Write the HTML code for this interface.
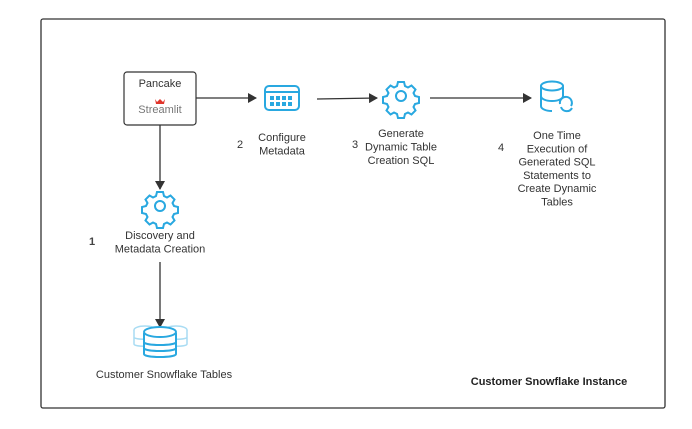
<!DOCTYPE html>
<html><head><meta charset="utf-8"><style>
html,body{margin:0;padding:0;background:#fff}
svg{display:block}
text{font-family:"Liberation Sans",sans-serif;fill:#333;font-size:11px}
</style></head><body>
<svg width="692" height="429" viewBox="0 0 692 429">
<defs><marker id="a" markerWidth="10" markerHeight="10" refX="8" refY="5" orient="auto" markerUnits="userSpaceOnUse"><path d="M0,0 L9,5 L0,10 Z" fill="#333"/></marker>
<g id="g" fill="none" stroke="#29a8e0" stroke-width="2">
<path d="M-3,-14 h6 l1,4 l3,1.5 l3.5,-2 l4,4 l-2,3.5 l1.5,3 l4,1 v6 l-4,1 l-1.5,3 l2,3.5 l-4,4 l-3.5,-2 l-3,1.5 l-1,4 h-6 l-1,-4 l-3,-1.5 l-3.5,2 l-4,-4 l2,-3.5 l-1.5,-3 l-4,-1 v-6 l4,-1 l1.5,-3 l-2,-3.5 l4,-4 l3.5,2 l3,-1.5 z"/>
<circle r="5"/>
</g></defs>
<rect x="41" y="19" width="624" height="389" rx="2" fill="#fff" stroke="#333" stroke-width="1.3"/>
<rect x="124" y="72" width="72" height="53" rx="3" fill="#fff" stroke="#333" stroke-width="1.2"/>
<text x="160" y="87" text-anchor="middle" font-size="11">Pancake</text>
<path d="M155,99 l2,3 l3,-3 l3,3 l2,-3 l-1,5 h-8 z" fill="#e0352b"/>
<text x="160" y="113" text-anchor="middle" font-size="5.5" style="fill:#777">Streamlit</text>
<g stroke="#333" stroke-width="1.3" fill="none">
<line x1="196" y1="98" x2="256" y2="98" marker-end="url(#a)"/>
<line x1="317" y1="99" x2="377" y2="98" marker-end="url(#a)"/>
<line x1="430" y1="98" x2="531" y2="98" marker-end="url(#a)"/>
<line x1="160" y1="125" x2="160" y2="189" marker-end="url(#a)"/>
<line x1="160" y1="262" x2="160" y2="327" marker-end="url(#a)"/>
</g>
<g stroke="#29a8e0" stroke-width="2" fill="none">
<rect x="265" y="86" width="34" height="24" rx="4"/>
<line x1="265" y1="92" x2="299" y2="92"/>
</g>
<g fill="#29a8e0">
<rect x="270" y="96" width="4" height="4"/><rect x="276" y="96" width="4" height="4"/><rect x="282" y="96" width="4" height="4"/><rect x="288" y="96" width="4" height="4"/>
<rect x="270" y="102" width="4" height="4"/><rect x="276" y="102" width="4" height="4"/><rect x="282" y="102" width="4" height="4"/><rect x="288" y="102" width="4" height="4"/>
</g>
<use href="#g" x="401" y="96"/>
<use href="#g" x="160" y="206"/>
<g stroke="#29a8e0" stroke-width="2" fill="none">
<ellipse cx="552" cy="86" rx="11" ry="4.5"/>
<path d="M541,86 v20 c0,3 5,5 11,5 M541,96 c0,3 5,5 11,5 c6,0 11,-2 11,-5 M563,86 v10"/>
<path d="M560,104 a6,6 0 1 1 11,2 M572,108 a6,6 0 0 1 -11,-1"/>
</g>
<g stroke="#a9dcf3" stroke-width="1.5" fill="#fff">
<ellipse cx="145" cy="330" rx="11" ry="4"/><path d="M134,330 v14 c0,3 22,3 22,0 v-14 M134,337 c0,3 22,3 22,0"/>
<ellipse cx="176" cy="330" rx="11" ry="4"/><path d="M165,330 v14 c0,3 22,3 22,0 v-14 M165,337 c0,3 22,3 22,0"/>
</g>
<g stroke="#29a8e0" stroke-width="2" fill="#fff">
<path d="M144,333 v21 c0,4 32,4 32,0 v-21"/>
<ellipse cx="160" cy="332" rx="16" ry="5"/>
<path d="M144,342 c0,4 32,4 32,0 M144,348 c0,4 32,4 32,0" fill="none"/>
</g>
<text x="160" y="239" text-anchor="middle"><tspan x="160">Discovery and</tspan><tspan x="160" dy="13.5">Metadata Creation</tspan></text>
<text x="89" y="245" font-size="13" font-weight="bold" style="fill:#444">1</text>
<text x="237" y="148" font-size="13">2</text>
<text x="282" y="141" text-anchor="middle"><tspan x="282">Configure</tspan><tspan x="282" dy="13.5">Metadata</tspan></text>
<text x="352" y="148" font-size="13">3</text>
<text x="401" y="137" text-anchor="middle"><tspan x="401">Generate</tspan><tspan x="401" dy="13.5">Dynamic Table</tspan><tspan x="401" dy="13.5">Creation SQL</tspan></text>
<text x="498" y="151" font-size="13">4</text>
<text x="557" y="139" text-anchor="middle"><tspan x="557">One Time</tspan><tspan x="557" dy="13.3">Execution of</tspan><tspan x="557" dy="13.3">Generated SQL</tspan><tspan x="557" dy="13.3">Statements to</tspan><tspan x="557" dy="13.3">Create Dynamic</tspan><tspan x="557" dy="13.3">Tables</tspan></text>
<text x="164" y="378" text-anchor="middle">Customer Snowflake Tables</text>
<text x="549" y="385" text-anchor="middle" font-weight="bold" style="fill:#222">Customer Snowflake Instance</text>
</svg>
</body></html>
